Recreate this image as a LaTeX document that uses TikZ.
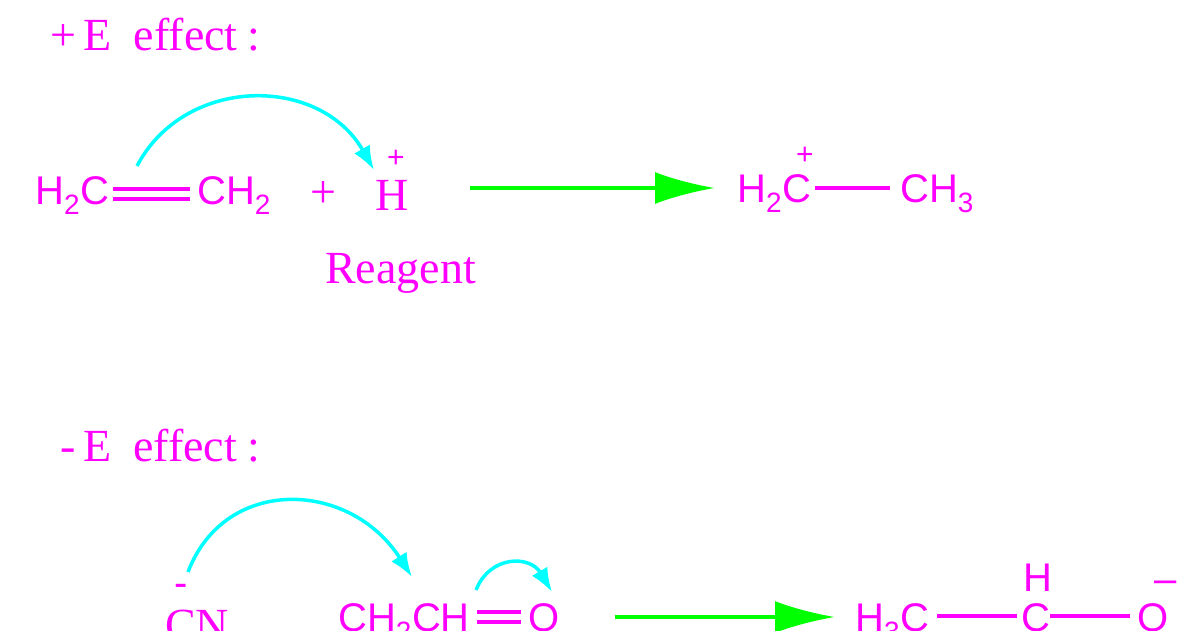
\documentclass[tikz,border=0pt]{standalone}
\usepackage{fontspec}
\setmainfont{Liberation Serif}
\setsansfont{Liberation Sans}
\usetikzlibrary{arrows.meta}
\definecolor{mag}{RGB}{255,0,255}
\definecolor{cy}{RGB}{0,255,255}
\definecolor{gr}{RGB}{0,255,0}
\newcommand{\sbs}[1]{\textsubscript{#1}}
\tikzset{
 sf/.style={text=mag,font=\sffamily\fontsize{40}{40}\selectfont,inner sep=0pt,anchor=base west},
 rm/.style={text=mag,font=\fontsize{46}{46}\selectfont,inner sep=0pt,anchor=base west},
 bond/.style={draw=mag,line width=4pt},
 curly/.style={draw=cy,line width=3.5pt,-{Latex[length=24pt,width=18pt]}},
 react/.style={draw=gr,line width=4pt,-{Latex[length=60pt,width=32pt]}}
}
\begin{document}
\begin{tikzpicture}[x=1pt,y=-1pt]
\useasboundingbox (0,0) rectangle (1200,630);
% top
\node[rm] (t1) at (50,50) {+\,E\hspace{22pt}effect\hspace{10pt}:};
\node[sf] (a1) at (35,204) {H\sbs{2}C};
\node[sf] (a2) at (197,204) {CH\sbs{2}};
\node[rm] (pl) at (310,207) {+};
\node[rm] (hp) at (375,210) {H};
\node[sf,anchor=center,font=\sffamily\fontsize{30}{30}\selectfont] (hps) at (396,159) {+};
\draw[bond] (113,189) -- (190,189);
\draw[bond] (113,199) -- (190,199);
\coordinate (c1s) at (137,166);
\coordinate (c1e) at (374,170);
\draw[curly] (c1s) .. controls (185,75) and (320,75) .. (c1e);
\coordinate (g1s) at (470,188);
\coordinate (g1e) at (715,188);
\draw[react] (g1s) -- (g1e);
\node[sf] (b1) at (737,202) {H\sbs{2}C};
\node[sf,anchor=center,font=\sffamily\fontsize{30}{30}\selectfont] (bp) at (805,156) {+};
\draw[bond] (815,188) -- (890,188);
\node[sf] (b2) at (900,202) {CH\sbs{3}};
\node[rm] (rg) at (325,283) {Reagent};
% bottom
\node[rm] (t2) at (60,461) {-\,E\hspace{22pt}effect\hspace{10pt}:};
\node[rm] (cn) at (165,640) {CN};
\node[sf,anchor=center] (cnm) at (181,590) {-};
\node[sf] (d1) at (338,631) {CH\sbs{2}CH};
\draw[bond] (477,612) -- (521,612);
\draw[bond] (477,622) -- (521,622);
\node[sf] (d2) at (528,631) {O};
\coordinate (c2s) at (188,572);
\coordinate (c2e) at (412,577);
\draw[curly] (c2s) .. controls (225,475) and (350,480) .. (c2e);
\coordinate (c3s) at (476,590);
\coordinate (c3e) at (552,592);
\draw[curly] (c3s) .. controls (490,555) and (530,555) .. (c3e);
\coordinate (g2s) at (615,617);
\coordinate (g2e) at (835,617);
\draw[react] (g2s) -- (g2e);
\node[sf] (e1) at (855,631) {H\sbs{3}C};
\draw[bond] (937,616) -- (1017,616);
\node[sf] (e2) at (1021,631) {C};
\node[sf] (eh) at (1023,591) {H};
\draw[bond] (1050,616) -- (1130,616);
\node[sf] (e3) at (1137,631) {O};
\node[sf,anchor=center] (em) at (1166,587) {--};
\end{tikzpicture}
\end{document}
